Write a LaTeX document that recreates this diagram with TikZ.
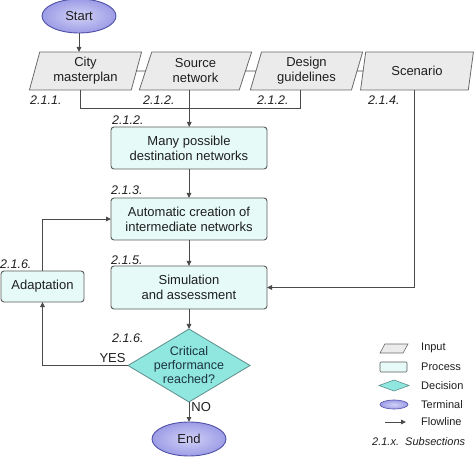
\documentclass[tikz,border=0pt]{standalone}
\usepackage{fontspec}
\setmainfont{Liberation Sans}
\usetikzlibrary{shapes.geometric, arrows.meta, positioning, calc}

\definecolor{inputfill}{HTML}{EBEBEB}
\definecolor{inputdraw}{HTML}{6A6A6A}
\definecolor{procfill}{HTML}{E6FBF8}
\definecolor{procdraw}{HTML}{5A5A5A}
\definecolor{decfill}{HTML}{8FE7DF}
\definecolor{decdraw}{HTML}{5E8E8C}
\definecolor{terminner}{HTML}{D2D2F8}
\definecolor{termouter}{HTML}{9C9CE6}
\definecolor{termdraw}{HTML}{5050A8}
\definecolor{linecol}{HTML}{4A4A4A}
\definecolor{txtcol}{HTML}{1E1E1E}
\definecolor{dectxt}{HTML}{1C3340}

\begin{document}
\begin{tikzpicture}[x=1pt, y=-1pt,
    txt/.style={font=\fontsize{13}{15}\selectfont, text=txtcol, align=center},
    inbox/.style={trapezium, trapezium left angle=75, trapezium right angle=105, trapezium stretches=true, draw=inputdraw, fill=inputfill, line width=0.8pt, minimum width=113pt, minimum height=38pt, inner sep=0pt, outer sep=0pt, txt},
    procbox/.style={rectangle, rounded corners=3pt, draw=procdraw, fill=procfill, line width=0.9pt, minimum width=156pt, minimum height=42pt, inner sep=0pt, outer sep=0pt, txt},
    term/.style={ellipse, draw=termdraw, line width=0.9pt, inner color=terminner, outer color=termouter, minimum width=74pt, minimum height=34pt, inner sep=0pt, outer sep=0pt, txt},
    decision/.style={diamond, draw=decdraw, fill=decfill, line width=0.8pt, minimum width=122pt, minimum height=73pt, inner sep=0pt, outer sep=0pt},
    sub/.style={font=\itshape\fontsize{12.5}{14}\selectfont, text=txtcol, inner sep=0pt},
    line/.style={draw=linecol, line width=0.9pt},
    flow/.style={line, -{Triangle[length=5pt, width=4.5pt]}},
    legtxt/.style={font=\fontsize{11}{13}\selectfont, text=txtcol, anchor=west, inner sep=0pt}
]
    \useasboundingbox (0,0) rectangle (474,457);

    % terminals
    \node[term] (start) at (79,16) {Start};
    \node[term] (end) at (189,439) {End};

    % inputs
    \node[inbox] (plan) at (85.5,71) {City\\masterplan};
    \node[inbox] (source) at (195.5,71) {Source\\network};
    \node[inbox] (guide) at (306.5,71) {Design\\guidelines};
    \node[inbox] (scen) at (417,71) {Scenario};

    % processes
    \node[procbox] (many) at (189,148) {Many possible\\destination networks};
    \node[procbox] (autom) at (189,219) {Automatic creation of\\intermediate networks};
    \node[procbox, minimum height=43pt] (simul) at (189,287.5) {Simulation\\and assessment};
    \node[procbox, minimum width=83pt, minimum height=31pt] (adapt) at (42.5,286.5) {Adaptation};

    % decision
    \node[decision, label={[txt, text=dectxt, font=\fontsize{12.5}{14}\selectfont]center:Critical\\performance\\reached?}] (crit) at (189,365.5) {};

    % subsection numbers
    \node[sub, anchor=west] (n111) at (30,100) {2.1.1.};
    \node[sub, anchor=west] (n112a) at (143,100) {2.1.2.};
    \node[sub, anchor=west] (n112b) at (257,100) {2.1.2.};
    \node[sub, anchor=west] (n114) at (368,100) {2.1.4.};
    \node[sub, anchor=west] (n112c) at (112,120) {2.1.2.};
    \node[sub, anchor=west] (n113) at (111,190) {2.1.3.};
    \node[sub, anchor=west] (n115) at (111,260) {2.1.5.};
    \node[sub, anchor=west] (n116a) at (0,264) {2.1.6.};
    \node[sub, anchor=west] (n116b) at (112,338) {2.1.6.};

    % bottom middles of the inputs
    \coordinate (planB) at ($(plan.bottom left corner)!0.5!(plan.bottom right corner)$);
    \coordinate (sourceB) at ($(source.bottom left corner)!0.5!(source.bottom right corner)$);
    \coordinate (guideB) at ($(guide.bottom left corner)!0.5!(guide.bottom right corner)$);
    \coordinate (scenB) at ($(scen.bottom left corner)!0.5!(scen.bottom right corner)$);

    % connectors
    \draw[flow] (start.south) -- (start.south |- plan.north);
    \draw[line] (plan.east) -- (source.west);
    \draw[line] (source.east) -- (guide.west);
    \draw[line] (guide.east) -- (scen.west);
    \draw[line] (planB) -- ++(0,18) -| (guideB);
    \draw[flow] (sourceB) -- (sourceB |- many.north);
    \draw[flow] (many) -- (autom);
    \draw[flow] (autom) -- (simul);
    \draw[flow] (simul) -- (crit);
    \draw[flow] (scenB) |- (simul.east);
    \draw[flow] (adapt.north) |- (autom.west);
    \draw[flow] (crit.west) -| node[txt, pos=0, anchor=south east, inner sep=2pt] {YES} (adapt.south);
    \draw[flow] (crit.south) -- node[txt, pos=0.25, anchor=west, inner sep=2pt] {NO} (end.north);

    % legend
    \node[inbox, minimum width=28pt, minimum height=9pt, inner sep=1pt, line width=0.6pt] (legin) at (394,348.5) {};
    \node[procbox, minimum width=27pt, minimum height=10pt, inner sep=1pt, rounded corners=1pt, line width=0.6pt] (legproc) at (393.5,367) {};
    \node[decision, minimum width=30pt, minimum height=11pt, inner sep=1pt, line width=0.6pt] (legdec) at (394,385.5) {};
    \node[term, minimum width=28pt, minimum height=9pt, inner sep=1pt, line width=0.6pt] (legterm) at (394,404.5) {};
    \coordinate (legfa) at (385,422);
    \coordinate (legfb) at (406,422);
    \draw[flow] (legfa) -- (legfb);
    \node[legtxt] (tin) at (421,348) {Input};
    \node[legtxt] (tproc) at (421,367) {Process};
    \node[legtxt] (tdec) at (421,385.5) {Decision};
    \node[legtxt] (tterm) at (421,404.5) {Terminal};
    \node[legtxt] (tflow) at (421,422) {Flowline};
    \node[legtxt, font=\itshape\fontsize{11}{13}\selectfont] (tsub) at (372,442) {2.1.x.\ \ Subsections};
\end{tikzpicture}
\end{document}
